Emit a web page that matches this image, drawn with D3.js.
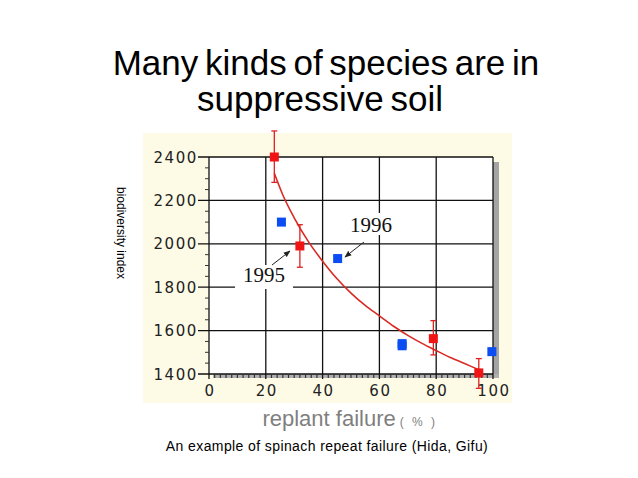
<!DOCTYPE html>
<html><head><meta charset="utf-8">
<script src="https://cdn.jsdelivr.net/npm/d3@7"></script>
<style>body{margin:0;background:#fff;}svg{display:block;}</style>
</head><body>
<script>
// ---- data ----
const redX  = [23, 32, 79, 95];
const redY  = [2400, 1990, 1563, 1405];
const redLo = [2283, 1892, 1488, 1334];
const redHi = [2520, 2088, 1646, 1471];
const blueX = [25.5, 45.3, 68, 68, 99.6];
const blueY = [2100, 1932, 1530, 1540, 1503];
const curveX = [23, 26, 30, 35, 40, 45, 50, 55, 60, 65, 70, 75, 80, 85, 90, 95];
const curveY = [2325, 2225, 2120, 2010, 1920, 1840, 1773, 1716, 1668, 1620, 1578, 1541, 1508, 1476, 1448, 1420];
const xTicks = [0, 20, 40, 60, 80, 100];
const yTicks = [1400, 1600, 1800, 2000, 2200, 2400];
const yMinor = d3.range(1450, 2400, 50).filter(v => v % 200 !== 0);
const xMinor = d3.range(2, 100, 2).filter(v => v % 20 !== 0);

const W = 638, H = 478;
const svg = d3.select("body").append("svg").attr("width", W).attr("height", H);

const x = d3.scaleLinear().domain([0, 100]).range([209, 493]);
const y = d3.scaleLinear().domain([1400, 2400]).range([374, 157]);

// title
const title = svg.append("text").attr("text-anchor", "middle")
  .attr("font-family", "Liberation Sans, Arial, sans-serif").attr("font-size", 35).attr("fill", "#000")
  .attr("word-spacing", -3);
title.append("tspan").attr("x", 326).attr("y", 75).text("Many kinds of species are in");
title.append("tspan").attr("x", 320).attr("y", 111).text("suppressive soil");

// panel background
svg.append("rect").attr("x", 143).attr("y", 133).attr("width", 369).attr("height", 270).attr("fill", "#fdfbe6");

// shadows
svg.append("rect").attr("x", x(100)).attr("y", y(2400) + 5).attr("width", 6).attr("height", y(1400) - y(2400) - 1).attr("fill", "#a4a4a4");
svg.append("rect").attr("x", x(0) + 4).attr("y", y(1400)).attr("width", x(100) - x(0) + 2).attr("height", 4).attr("fill", "#b0b0b0");

// plot area
svg.append("rect").attr("x", x(0)).attr("y", y(2400)).attr("width", x(100) - x(0)).attr("height", y(1400) - y(2400)).attr("fill", "#fff");

const g = svg.append("g");
g.selectAll(".hg").data(yTicks).join("line")
  .attr("x1", x(0) - 11).attr("x2", x(100)).attr("y1", d => y(d)).attr("y2", d => y(d))
  .attr("stroke", "#111").attr("stroke-width", 1.3);
g.selectAll(".vg").data(xTicks).join("line")
  .attr("x1", d => x(d)).attr("x2", d => x(d)).attr("y1", y(2400)).attr("y2", y(1400) + 5)
  .attr("stroke", "#111").attr("stroke-width", 1.3);
g.selectAll(".ym").data(yMinor).join("line")
  .attr("x1", x(0) - 4).attr("x2", x(0)).attr("y1", d => y(d)).attr("y2", d => y(d))
  .attr("stroke", "#333").attr("stroke-width", 1);
g.selectAll(".xm").data(xMinor).join("line")
  .attr("x1", d => x(d)).attr("x2", d => x(d)).attr("y1", y(1400)).attr("y2", y(1400) + 4)
  .attr("stroke", "#333").attr("stroke-width", 1.2);

// tick labels
svg.selectAll(".yl").data(yTicks).join("text")
  .attr("x", 198).attr("y", d => y(d) + 5.5).attr("text-anchor", "end")
  .attr("font-family", "DejaVu Sans, Verdana, sans-serif").attr("font-size", 15).attr("letter-spacing", 1.6)
  .attr("fill", "#222").text(d => d);
svg.selectAll(".xl").data(xTicks).join("text")
  .attr("x", d => x(d) + 1).attr("y", 396).attr("text-anchor", "middle")
  .attr("font-family", "DejaVu Sans, Verdana, sans-serif").attr("font-size", 15).attr("letter-spacing", 1.6)
  .attr("fill", "#222").text(d => d);

// annotation boxes (white backgrounds)
svg.append("rect").attr("x", 235).attr("y", 265).attr("width", 58).attr("height", 24).attr("fill", "#fff");
svg.append("rect").attr("x", 345).attr("y", 213).attr("width", 53).attr("height", 22).attr("fill", "#fff");

// fitted curve
const line = d3.line().x((d, i) => x(curveX[i])).y(d => y(d)).curve(d3.curveMonotoneX);
svg.append("path").attr("d", line(curveY)).attr("fill", "none").attr("stroke", "#d92a24").attr("stroke-width", 1.6);

// error bars
const eb = svg.append("g").attr("stroke", "#e02020").attr("stroke-width", 1.3);
redX.forEach((v, i) => {
  eb.append("line").attr("x1", x(v)).attr("x2", x(v)).attr("y1", y(redLo[i])).attr("y2", y(redHi[i]));
  eb.append("line").attr("x1", x(v) - 3).attr("x2", x(v) + 3).attr("y1", y(redLo[i])).attr("y2", y(redLo[i]));
  eb.append("line").attr("x1", x(v) - 3).attr("x2", x(v) + 3).attr("y1", y(redHi[i])).attr("y2", y(redHi[i]));
});

// blue squares
svg.selectAll(".bp").data(blueY).join("rect")
  .attr("x", (d, i) => x(blueX[i]) - 4.5).attr("y", d => y(d) - 4.5)
  .attr("width", 9).attr("height", 9).attr("fill", "#0b4df2");
// red squares
svg.selectAll(".rp").data(redY).join("rect")
  .attr("x", (d, i) => x(redX[i]) - 4.5).attr("y", d => y(d) - 4.5)
  .attr("width", 9).attr("height", 9).attr("fill", "#f01414");

// annotations
const defs = svg.append("defs");
defs.append("marker").attr("id", "ah").attr("viewBox", "0 0 10 10").attr("refX", 9).attr("refY", 5)
  .attr("markerWidth", 7).attr("markerHeight", 7).attr("orient", "auto")
  .append("path").attr("d", "M0,1 L10,5 L0,9 z").attr("fill", "#222");
svg.append("line").attr("x1", 272).attr("y1", 265).attr("x2", 290).attr("y2", 251)
  .attr("stroke", "#222").attr("stroke-width", 1).attr("marker-end", "url(#ah)");
svg.append("line").attr("x1", 364).attr("y1", 242).attr("x2", 345).attr("y2", 257)
  .attr("stroke", "#222").attr("stroke-width", 1).attr("marker-end", "url(#ah)");
svg.append("text").attr("x", 264).attr("y", 282).attr("text-anchor", "middle")
  .attr("font-family", "Liberation Serif, Times New Roman, serif").attr("font-size", 21).attr("fill", "#111").text("1995");
svg.append("text").attr("x", 371).attr("y", 232).attr("text-anchor", "middle")
  .attr("font-family", "Liberation Serif, Times New Roman, serif").attr("font-size", 21).attr("fill", "#111").text("1996");

// axis titles
svg.append("text").attr("transform", "translate(117,233) rotate(90)").attr("text-anchor", "middle")
  .attr("font-family", "Liberation Sans, Arial, sans-serif").attr("font-size", 12).attr("fill", "#000")
  .text("biodiversity index");
const xt = svg.append("text").attr("x", 350).attr("y", 426).attr("text-anchor", "middle")
  .attr("font-family", "Liberation Sans, Arial, sans-serif").attr("fill", "#7f7f7f");
xt.append("tspan").attr("font-size", 22).text("replant failure");
xt.append("tspan").attr("font-size", 12).attr("dx", 4).attr("letter-spacing", 2.5).text("( % )");
svg.append("text").attr("x", 327).attr("y", 451).attr("text-anchor", "middle")
  .attr("font-family", "Liberation Sans, Arial, sans-serif").attr("font-size", 14).attr("letter-spacing", 0.4)
  .attr("fill", "#000")
  .text("An example of spinach repeat failure (Hida, Gifu)");
</script>
</body></html>
